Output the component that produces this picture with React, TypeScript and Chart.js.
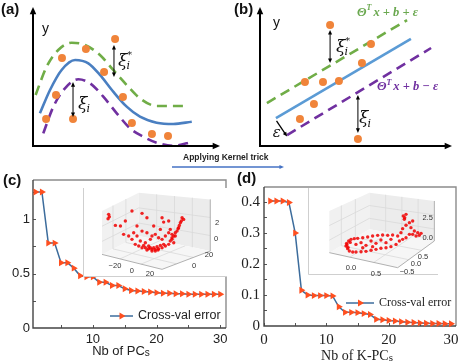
import React, { useEffect, useRef } from "react";
import { Chart, registerables } from "chart.js";

Chart.register(...registerables);

const W = 474;
const H = 361;

// ---------------- panel (a): non-linear SVR sketch (arbitrary units 0..10) ----------------
const aFitX = [0.37, 0.91, 1.53, 2.25, 2.96, 3.58, 4.29, 5.01, 5.72, 6.61, 7.5, 8.49];
const aFitY = [2.35, 4.03, 5.47, 6.19, 5.95, 5.11, 3.91, 2.83, 2.11, 1.68, 1.58, 1.75];
const aUpperX = [0.14, 0.73, 1.35, 2.07, 2.78, 3.58, 4.29, 5.01, 5.72, 6.61, 8.13];
const aUpperY = [3.67, 5.71, 6.91, 7.43, 7.27, 6.55, 5.47, 4.39, 3.43, 2.88, 2.88];
const aLowerX = [0.55, 1.09, 1.71, 2.42, 3.05, 3.76, 4.48, 5.19, 5.9, 6.61, 7.5, 8.57];
const aLowerY = [0.91, 2.83, 4.15, 4.8, 4.51, 3.55, 2.35, 1.27, 0.67, 0.24, 0.02, 0.31];
const aSampleX = [4.39, 2.83, 1.55, 3.8, 1.23, 4.81, 0.7, 2.14, 5.29, 6.36, 7.22];
const aSampleY = [7.7, 6.98, 6.33, 5.32, 3.67, 3.53, 1.94, 1.94, 1.65, 0.86, 0.72];

// ---------------- panel (b): linear SVR sketch ----------------
const bUpperX = [0.36, 7.66];
const bUpperY = [3.09, 9.06];
const bFitX = [0.83, 7.86];
const bFitY = [2.01, 7.7];
const bLowerX = [1.41, 8.91];
const bLowerY = [0.79, 7.05];
const bSampleX = [3.65, 5.78, 5.31, 2.34, 3.28, 4.11, 2.81, 2.08, 5.1];
const bSampleY = [8.71, 7.34, 5.97, 4.6, 4.6, 4.68, 3.02, 1.94, 0.5];

// ---------------- panel (c): PCA cross-validation error ----------------
const nbPCs = [1, 2, 3, 4, 5, 6, 7, 8, 9, 10, 11, 12, 13, 14, 15, 16, 17, 18, 19, 20, 21, 22, 23, 24, 25, 26, 27, 28, 29, 30];
const cvErrorPCA = [1.25, 1.25, 0.78, 0.78, 0.6, 0.6, 0.55, 0.48, 0.47, 0.47, 0.42, 0.42, 0.39, 0.39, 0.36, 0.345, 0.34, 0.335, 0.33, 0.325, 0.32, 0.32, 0.315, 0.315, 0.31, 0.31, 0.31, 0.31, 0.31, 0.31];
const pcaXTicks = [10, 20, 30];
const pcaYTicks = [0, 0.5, 1];

// ---------------- panel (d): kernel PCA cross-validation error ----------------
const nbKPCs = [1, 2, 3, 4, 5, 6, 7, 8, 9, 10, 11, 12, 13, 14, 15, 16, 17, 18, 19, 20, 21, 22, 23, 24, 25, 26, 27, 28, 29, 30];
const cvErrorKPCA = [0.403, 0.403, 0.403, 0.398, 0.3, 0.115, 0.1, 0.098, 0.098, 0.098, 0.097, 0.062, 0.044, 0.044, 0.043, 0.04, 0.037, 0.022, 0.02, 0.018, 0.016, 0.014, 0.012, 0.011, 0.01, 0.009, 0.008, 0.008, 0.007, 0.007];
const kpcaXTicks = [0, 10, 20, 30];
const kpcaYTicks = [0, 0.1, 0.2, 0.3, 0.4];

// ---------------- insets: projected 3-D point clouds (inset units 0..100) ----------------
const pcaCloudX = [17.8, 18.3, 17.4, 34.0, 41.0, 44.4, 22.5, 26.0, 29.4, 54.9, 56.0, 59.5, 68.8, 69.9, 67.6, 66.4, 65.3, 28.2, 31.7, 35.2, 34.0, 37.5, 41.0, 44.4, 47.9, 50.2, 52.5, 39.8, 43.3, 46.8, 54.9, 57.2, 59.5, 60.6, 61.8, 63.0, 64.1, 36.3, 38.7, 41.0, 43.3, 45.6, 47.9, 50.2, 52.5, 54.9, 57.2, 59.5, 45.6, 49.1, 51.4, 53.7, 44.4, 47.9, 50.2, 46.8, 42.1, 56.0, 52.1, 60.6, 61.8, 63.0, 64.1, 66.0, 66.9, 68.3, 61.8, 37.5, 49.1, 53.7];
const pcaCloudY = [70.4, 67.7, 65.5, 74.1, 71.5, 66.6, 58.0, 57.3, 62.9, 66.6, 61.7, 62.9, 66.6, 64.7, 61.0, 55.4, 51.6, 47.9, 46.0, 49.8, 42.3, 46.0, 51.6, 49.8, 46.0, 47.9, 44.1, 40.4, 38.5, 42.3, 42.3, 46.0, 49.8, 53.5, 44.1, 38.5, 46.0, 36.7, 34.8, 32.9, 32.9, 31.8, 31.0, 31.0, 31.8, 32.9, 34.8, 36.7, 34.8, 32.9, 34.0, 35.5, 30.3, 29.2, 29.2, 32.9, 35.5, 36.7, 30.3, 40.4, 42.3, 46.0, 49.8, 54.3, 58.0, 62.9, 47.9, 57.3, 57.3, 53.5];
const kpcaCloudX = [29.2, 29.7, 30.5, 31.3, 31.8, 33.1, 34.4, 35.6, 38.2, 36.9, 40.8, 42.1, 44.6, 45.9, 48.5, 49.7, 52.3, 53.6, 56.1, 57.4, 60.0, 61.3, 63.8, 65.1, 36.9, 40.8, 44.6, 48.5, 52.3, 56.1, 60.0, 63.8, 67.7, 70.3, 49.7, 42.1, 69.0, 71.5, 72.8, 75.4, 74.1, 73.3, 75.4, 74.4, 78.0, 80.5, 79.2, 81.8, 84.4, 87.0, 83.1, 78.0, 75.4, 72.8, 80.5, 85.6, 30.0, 30.8, 32.5];
const kpcaCloudY = [33.3, 36.4, 30.3, 39.1, 27.6, 41.0, 26.4, 41.8, 42.1, 26.4, 26.8, 42.9, 27.2, 43.7, 28.4, 44.8, 29.5, 45.6, 30.7, 46.0, 31.4, 45.6, 32.6, 46.0, 35.2, 37.2, 34.1, 39.1, 36.4, 40.2, 37.2, 41.0, 35.2, 39.1, 32.6, 31.4, 44.8, 48.7, 53.3, 57.1, 64.0, 67.8, 69.7, 65.9, 60.2, 62.1, 54.4, 50.6, 48.7, 47.9, 44.8, 46.7, 42.9, 41.0, 46.7, 45.6, 34.8, 31.8, 37.5];
const pcaInsetTickLabels = ["\u221220", "0", "20", "2", "0", "20", "0"];
const kpcaInsetTickLabels = ["0.0", "0.5", "2.5", "0.0", "0.5", "0.0", "\u22120.5"];

// ---------------- styles ----------------
const GREEN = "#70ad47";
const PURPLE = "#7030a0";
const BLUE_A = "#4a7fc1";
const BLUE_B = "#5b9bd5";
const ORANGE = "#f0843a";
const LINE_BLUE = "#3c6c9c";
const MARKER = "#ff4f1f";

const pts = (xs: number[], ys: number[]) => xs.map((x, i) => ({ x, y: ys[i] }));

function arrowHead(ctx: CanvasRenderingContext2D, x1: number, y1: number, x2: number, y2: number, size: number) {
  const ang = Math.atan2(y2 - y1, x2 - x1);
  ctx.beginPath();
  ctx.moveTo(x2, y2);
  ctx.lineTo(x2 - size * Math.cos(ang - 0.42), y2 - size * Math.sin(ang - 0.42));
  ctx.lineTo(x2 - size * Math.cos(ang + 0.42), y2 - size * Math.sin(ang + 0.42));
  ctx.closePath();
  ctx.fill();
}

function arrow(ctx: CanvasRenderingContext2D, x1: number, y1: number, x2: number, y2: number, width: number, size: number, color: string, both = false) {
  ctx.save();
  ctx.strokeStyle = color;
  ctx.fillStyle = color;
  ctx.lineWidth = width;
  const ang = Math.atan2(y2 - y1, x2 - x1);
  const ex = x2 - Math.cos(ang) * size * 0.7;
  const ey = y2 - Math.sin(ang) * size * 0.7;
  const sx = both ? x1 + Math.cos(ang) * size * 0.7 : x1;
  const sy = both ? y1 + Math.sin(ang) * size * 0.7 : y1;
  ctx.beginPath();
  ctx.moveTo(sx, sy);
  ctx.lineTo(ex, ey);
  ctx.stroke();
  arrowHead(ctx, x1, y1, x2, y2, size);
  if (both) arrowHead(ctx, x2, y2, x1, y1, size);
  ctx.restore();
}

function xiLabel(ctx: CanvasRenderingContext2D, x: number, y: number, star: boolean, size: number) {
  ctx.save();
  ctx.fillStyle = "#111";
  ctx.textAlign = "left";
  ctx.textBaseline = "middle";
  ctx.font = `italic ${size}px "DejaVu Serif"`;
  ctx.fillText("\u03be", x, y);
  const w = ctx.measureText("\u03be").width;
  ctx.font = `italic ${Math.round(size * 0.62)}px "DejaVu Serif"`;
  ctx.fillText("i", x + w - 1, y + size * 0.3);
  if (star) {
    ctx.font = `${Math.round(size * 0.55)}px "DejaVu Serif"`;
    ctx.fillText("*", x + w, y - size * 0.35);
  }
  ctx.restore();
}

function thetaLabel(ctx: CanvasRenderingContext2D, x: number, y: number, sign: string, color: string) {
  ctx.save();
  ctx.fillStyle = color;
  ctx.textAlign = "left";
  ctx.textBaseline = "middle";
  ctx.font = 'bold italic 12.5px "Liberation Serif"';
  ctx.fillText("\u0398", x, y);
  let cx = x + ctx.measureText("\u0398").width;
  ctx.font = 'bold italic 8px "Liberation Serif"';
  ctx.fillText("T", cx, y - 4);
  cx += ctx.measureText("T").width + 2;
  ctx.font = 'bold italic 12.5px "Liberation Serif"';
  ctx.fillText("x + b " + sign + " \u03b5", cx, y);
  ctx.restore();
}

function panelLabel(ctx: CanvasRenderingContext2D, text: string, x: number, y: number) {
  ctx.save();
  ctx.fillStyle = "#111";
  ctx.font = 'bold 15px "Liberation Sans"';
  ctx.textAlign = "left";
  ctx.textBaseline = "middle";
  ctx.fillText(text, x, y);
  ctx.restore();
}

const baseOptions = (padding: any, xr: [number, number], yr: [number, number]) => ({
  responsive: false,
  animation: false as const,
  devicePixelRatio: 1,
  events: [] as any[],
  layout: { padding },
  scales: {
    x: { type: "linear" as const, min: xr[0], max: xr[1], display: false },
    y: { type: "linear" as const, min: yr[0], max: yr[1], display: false },
  },
  plugins: { legend: { display: false }, tooltip: { enabled: false } },
});

const curve = (data: any, color: string, dash: number[]) => ({
  data,
  borderColor: color,
  borderWidth: 2.6,
  borderDash: dash,
  pointRadius: 0,
  cubicInterpolationMode: "monotone" as const,
  clip: false as const,
  order: 2,
});

const samples = (data: any) => ({
  data,
  showLine: false,
  pointRadius: 4,
  pointBackgroundColor: ORANGE,
  pointBorderColor: ORANGE,
  pointBorderWidth: 0,
  clip: false as const,
  order: 0,
});

// ---------- panel (a) ----------
const sketchAPlugin = {
  id: "sketchA",
  afterDatasetsDraw(chart: any) {
    const { ctx } = chart;
    const sx = chart.scales.x, sy = chart.scales.y;
    const px = (v: number) => sx.getPixelForValue(v);
    const py = (v: number) => sy.getPixelForValue(v);
    arrow(ctx, px(0), py(0) + 1, px(0), py(10), 2, 8, "#000");
    arrow(ctx, px(0) - 1, py(0), px(10), py(0), 2, 8, "#000");
    arrow(ctx, px(4.33), py(7.27), px(4.33), py(4.96), 1, 5, "#000", true);
    arrow(ctx, px(2.14), py(4.6), px(2.14), py(2.09), 1, 5, "#000", true);
    xiLabel(ctx, px(4.55), py(6.1), true, 17);
    xiLabel(ctx, px(2.41), py(3.0), false, 17);
    ctx.save();
    ctx.fillStyle = "#111";
    ctx.font = '14px "Liberation Sans"';
    ctx.textBaseline = "middle";
    ctx.fillText("y", px(0.48), py(8.4));
    ctx.restore();
    panelLabel(ctx, "(a)", 1, 10);
    // kernel-trick arrow between (a) and (b)
    ctx.save();
    ctx.fillStyle = "#222";
    ctx.font = 'bold 8.5px "Liberation Sans"';
    ctx.textBaseline = "middle";
    ctx.fillText("Applying Kernel trick", 183, 158);
    ctx.restore();
    arrow(ctx, 172, 167, 284, 167, 1.5, 5, "#4472c4");
  },
};

const configA = () => ({
  type: "line" as const,
  data: {
    datasets: [
      samples(pts(aSampleX, aSampleY)),
      curve(pts(aUpperX, aUpperY), GREEN, [10, 6]),
      curve(pts(aFitX, aFitY), BLUE_A, []),
      curve(pts(aLowerX, aLowerY), PURPLE, [10, 6]),
    ],
  },
  options: baseOptions({ left: 33, top: 7, right: W - 220, bottom: H - 146 }, [0, 10], [0, 10]),
  plugins: [sketchAPlugin],
});

// ---------- panel (b) ----------
const sketchBPlugin = {
  id: "sketchB",
  afterDatasetsDraw(chart: any) {
    const { ctx } = chart;
    const sx = chart.scales.x, sy = chart.scales.y;
    const px = (v: number) => sx.getPixelForValue(v);
    const py = (v: number) => sy.getPixelForValue(v);
    arrow(ctx, px(0), py(0) + 1, px(0), py(10), 2, 8, "#000");
    arrow(ctx, px(0) - 1, py(0), px(10), py(0), 2, 8, "#000");
    arrow(ctx, px(3.65), py(8.35), px(3.65), py(5.97), 1, 5, "#000", true);
    arrow(ctx, px(5.1), py(3.67), px(5.1), py(0.94), 1, 5, "#000", true);
    arrow(ctx, px(0.86), py(1.8), px(1.41), py(0.68), 1.3, 5, "#000");
    xiLabel(ctx, px(3.96), py(7.1), true, 17);
    xiLabel(ctx, px(5.16), py(1.95), false, 17);
    ctx.save();
    ctx.fillStyle = "#111";
    ctx.font = 'italic 15px "DejaVu Serif"';
    ctx.textBaseline = "middle";
    ctx.textAlign = "center";
    ctx.fillText("\u03b5", px(0.88), py(0.92));
    ctx.font = '14px "Liberation Sans"';
    ctx.textAlign = "left";
    ctx.fillText("y", px(0.68), py(8.85));
    ctx.restore();
    thetaLabel(ctx, px(5.05), py(9.62), "+", "#6aa84f");
    thetaLabel(ctx, px(6.09), py(4.25), "\u2212", PURPLE);
    panelLabel(ctx, "(b)", 234, 10);
  },
};

const configB = () => ({
  type: "line" as const,
  data: {
    datasets: [
      samples(pts(bSampleX, bSampleY)),
      { ...curve(pts(bUpperX, bUpperY), GREEN, [10, 6]), cubicInterpolationMode: "default" as const },
      { ...curve(pts(bFitX, bFitY), BLUE_B, []), cubicInterpolationMode: "default" as const },
      { ...curve(pts(bLowerX, bLowerY), PURPLE, [10, 6]), cubicInterpolationMode: "default" as const },
    ],
  },
  options: baseOptions({ left: 260, top: 7, right: W - 452, bottom: H - 146 }, [0, 10], [0, 10]),
  plugins: [sketchBPlugin],
});

// ---------- panels (c) and (d): error curves ----------
type ErrOpts = {
  id: string;
  label: string;
  panelX: number;
  panelY: number;
  family: string;
  legendSize: number;
  legendDx: number;
  legendDy: number;
  legendLen: number;
  titleX: number;
  titleY: number;
  titleSize: number;
  titleMain: string;
  xMinor: number;
  yMinor: number;
};

const errPlugin = (o: ErrOpts) => ({
  id: o.id,
  beforeDatasetsDraw(chart: any) {
    const { ctx, chartArea: a } = chart;
    const sx = chart.scales.x, sy = chart.scales.y;
    ctx.save();
    ctx.lineWidth = 1;
    ctx.strokeStyle = "#555";
    for (let v = Math.ceil(sx.min / o.xMinor) * o.xMinor; v <= sx.max + 1e-9; v += o.xMinor) {
      const p = Math.round(sx.getPixelForValue(v)) + 0.5;
      ctx.beginPath();
      ctx.moveTo(p, a.bottom);
      ctx.lineTo(p, a.bottom - 3);
      ctx.stroke();
    }
    for (let v = o.yMinor; v <= sy.max + 1e-9; v += o.yMinor) {
      const p = Math.round(sy.getPixelForValue(v)) + 0.5;
      ctx.beginPath();
      ctx.moveTo(a.left, p);
      ctx.lineTo(a.left + 3, p);
      ctx.stroke();
    }
    ctx.lineWidth = 1.4;
    ctx.strokeStyle = "#8c8c8c";
    ctx.beginPath();
    ctx.moveTo(a.left, a.top);
    ctx.lineTo(a.right, a.top);
    ctx.lineTo(a.right, a.bottom);
    ctx.stroke();
    ctx.strokeStyle = "#444";
    ctx.beginPath();
    ctx.moveTo(a.left, a.top);
    ctx.lineTo(a.left, a.bottom);
    ctx.lineTo(a.right, a.bottom);
    ctx.stroke();
    ctx.restore();
  },
  afterDraw(chart: any) {
    const { ctx, chartArea: a } = chart;
    ctx.save();
    // legend
    const lx = a.right - o.legendDx;
    const ly = a.bottom - o.legendDy;
    ctx.strokeStyle = LINE_BLUE;
    ctx.lineWidth = 1.5;
    ctx.beginPath();
    ctx.moveTo(lx, ly);
    ctx.lineTo(lx + o.legendLen, ly);
    ctx.stroke();
    const cx = lx + o.legendLen / 2, r = 4;
    ctx.fillStyle = MARKER;
    ctx.beginPath();
    ctx.moveTo(cx + r, ly);
    ctx.lineTo(cx - r / 2, ly - r * 0.866);
    ctx.lineTo(cx - r / 2, ly + r * 0.866);
    ctx.closePath();
    ctx.fill();
    ctx.fillStyle = "#222";
    ctx.font = `${o.legendSize}px "${o.family}"`;
    ctx.textBaseline = "middle";
    ctx.textAlign = "left";
    ctx.fillText("Cross-val error", lx + o.legendLen + 5, ly);
    // axis title with subscript s
    ctx.font = `${o.titleSize}px "${o.family}"`;
    const wMain = ctx.measureText(o.titleMain).width;
    ctx.font = `${Math.round(o.titleSize * 0.75)}px "${o.family}"`;
    const wSub = ctx.measureText("s").width;
    const start = o.titleX - (wMain + wSub) / 2;
    ctx.font = `${o.titleSize}px "${o.family}"`;
    ctx.fillText(o.titleMain, start, o.titleY);
    ctx.font = `${Math.round(o.titleSize * 0.75)}px "${o.family}"`;
    ctx.fillText("s", start + wMain, o.titleY + 2);
    ctx.restore();
    panelLabel(ctx, o.label, o.panelX, o.panelY);
  },
});

const errConfig = (
  xs: number[], ys: number[], xTicks: number[], yTicks: number[],
  xr: [number, number], yr: [number, number], area: { l: number; t: number; r: number; b: number },
  family: string, tickSize: number, yAxisW: number, xPad: number, yPad: number, o: ErrOpts
) => ({
  type: "line" as const,
  data: {
    datasets: [
      {
        data: pts(xs, ys),
        borderColor: LINE_BLUE,
        borderWidth: 1.5,
        pointStyle: "triangle" as const,
        rotation: 90,
        pointRadius: 4,
        pointBackgroundColor: MARKER,
        pointBorderColor: MARKER,
        pointBorderWidth: 0,
        tension: 0,
        clip: false as const,
      },
    ],
  },
  options: {
    responsive: false,
    animation: false as const,
    devicePixelRatio: 1,
    events: [] as any[],
    layout: { padding: { left: area.l - yAxisW, top: area.t, right: W - area.r, bottom: 0 } },
    scales: {
      x: {
        type: "linear" as const,
        min: xr[0],
        max: xr[1],
        grid: { display: false, drawTicks: false },
        border: { display: false },
        ticks: { font: { family: family, size: tickSize }, color: "#222", padding: xPad, autoSkip: false, maxRotation: 0, callback: (v: any) => String(v) },
        afterBuildTicks: (s: any) => { s.ticks = xTicks.map((v) => ({ value: v })); },
        afterFit: (s: any) => { s.height = H - area.b; },
      },
      y: {
        type: "linear" as const,
        min: yr[0],
        max: yr[1],
        grid: { display: false, drawTicks: false },
        border: { display: false },
        ticks: { font: { family: family, size: tickSize }, color: "#222", padding: yPad, autoSkip: false, callback: (v: any) => String(v) },
        afterBuildTicks: (s: any) => { s.ticks = yTicks.map((v) => ({ value: v })); },
        afterFit: (s: any) => { s.width = yAxisW; },
      },
    },
    plugins: { legend: { display: false }, tooltip: { enabled: false } },
  },
  plugins: [errPlugin(o)],
});

const configC = () =>
  errConfig(nbPCs, cvErrorPCA, pcaXTicks, pcaYTicks, [0.6, 30.9], [0, 1.36], { l: 33, t: 180, r: 226, b: 328 },
    "Liberation Sans", 13, 33, 4, 3, {
      id: "errC", label: "(c)", panelX: 3, panelY: 181, family: "Liberation Sans", legendSize: 12.5,
      legendDx: 116, legendDy: 12, legendLen: 23, titleX: 121, titleY: 351, titleSize: 13, titleMain: "Nb of PC",
      xMinor: 5, yMinor: 0.25,
    });

const configD = () =>
  errConfig(nbKPCs, cvErrorKPCA, kpcaXTicks, kpcaYTicks, [0, 30.8], [0, 0.448], { l: 264, t: 187, r: 456, b: 326 },
    "Liberation Serif", 15, 30, 5, 4, {
      id: "errD", label: "(d)", panelX: 237, panelY: 179, family: "Liberation Serif", legendSize: 12,
      legendDx: 110, legendDy: 23, legendLen: 28, titleX: 357, titleY: 356, titleSize: 14, titleMain: "Nb of K-PC",
      xMinor: 5, yMinor: 0.05,
    });

// ---------- 3-D insets ----------
type Frame = { TL: number[]; TM: number[]; TR: number[]; BR: number[]; BM: number[]; BL: number[]; F: number[] };

const cubePlugin = (id: string, fr: Frame, labels: string[], labelPos: number[][]) => ({
  id,
  beforeDatasetsDraw(chart: any) {
    const { ctx, chartArea: a } = chart;
    const sx = chart.scales.x, sy = chart.scales.y;
    const P = (p: number[]) => [sx.getPixelForValue(p[0]), sy.getPixelForValue(p[1])];
    const lerp = (p: number[], q: number[], t: number) => [p[0] + (q[0] - p[0]) * t, p[1] + (q[1] - p[1]) * t];
    ctx.save();
    ctx.fillStyle = "#fff";
    ctx.fillRect(a.left, a.top, a.right - a.left, a.bottom - a.top);
    ctx.strokeStyle = "#cfcfcf";
    ctx.lineWidth = 1;
    ctx.beginPath();
    ctx.moveTo(a.left + 0.5, a.top);
    ctx.lineTo(a.left + 0.5, a.bottom - 0.5);
    ctx.lineTo(a.right, a.bottom - 0.5);
    ctx.stroke();
    const poly = (q: number[][], fill: string) => {
      ctx.beginPath();
      q.forEach((p, i) => {
        const [x, y] = P(p);
        if (i === 0) ctx.moveTo(x, y);
        else ctx.lineTo(x, y);
      });
      ctx.closePath();
      ctx.fillStyle = fill;
      ctx.fill();
    };
    const grid = (A: number[], B: number[], C: number[], D: number[], ts: number[], ss: number[]) => {
      ctx.strokeStyle = "#d9d9d9";
      ctx.lineWidth = 0.8;
      ts.forEach((t) => {
        const p = P(lerp(A, B, t)), q = P(lerp(D, C, t));
        ctx.beginPath();
        ctx.moveTo(p[0], p[1]);
        ctx.lineTo(q[0], q[1]);
        ctx.stroke();
      });
      ss.forEach((t) => {
        const p = P(lerp(A, D, t)), q = P(lerp(B, C, t));
        ctx.beginPath();
        ctx.moveTo(p[0], p[1]);
        ctx.lineTo(q[0], q[1]);
        ctx.stroke();
      });
    };
    poly([fr.TL, fr.TM, fr.BM, fr.BL], "#f1f1f1");
    poly([fr.TM, fr.TR, fr.BR, fr.BM], "#ececec");
    poly([fr.BL, fr.BM, fr.BR, fr.F], "#f6f6f6");
    grid(fr.TL, fr.TM, fr.BM, fr.BL, [0.3, 0.65], [0.35, 0.7]);
    grid(fr.TM, fr.TR, fr.BR, fr.BM, [0.25, 0.5, 0.75], [0.35, 0.7]);
    grid(fr.BL, fr.BM, fr.BR, fr.F, [0.3, 0.65], [0.3, 0.65]);
    ctx.strokeStyle = "#a8a8a8";
    ctx.lineWidth = 0.9;
    const e = [P(fr.BL), P(fr.F), P(fr.BR)];
    ctx.beginPath();
    ctx.moveTo(e[0][0], e[0][1]);
    ctx.lineTo(e[1][0], e[1][1]);
    ctx.lineTo(e[2][0], e[2][1]);
    ctx.stroke();
    const r1 = P(fr.TR), r2 = P(fr.BR);
    ctx.beginPath();
    ctx.moveTo(r1[0], r1[1]);
    ctx.lineTo(r2[0], r2[1]);
    ctx.stroke();
    ctx.restore();
  },
  afterDatasetsDraw(chart: any) {
    const { ctx } = chart;
    const sx = chart.scales.x, sy = chart.scales.y;
    ctx.save();
    ctx.fillStyle = "#333";
    ctx.font = '7.5px "Liberation Sans"';
    ctx.textAlign = "center";
    ctx.textBaseline = "middle";
    labels.forEach((t, i) => {
      ctx.fillText(t, sx.getPixelForValue(labelPos[i][0]), sy.getPixelForValue(labelPos[i][1]));
    });
    ctx.restore();
  },
});

const pcaFrame: Frame = { TL: [13.2, 74.1], TM: [38.7, 94.7], TR: [88.4, 87.2], BR: [88.4, 29.2], BM: [38.7, 46.0], BL: [13.2, 25.4], F: [54.9, 8.6] };
const kpcaFrame: Frame = { TL: [16.4, 73.6], TM: [47.2, 94.6], TR: [97.2, 85.1], BR: [97.2, 39.1], BM: [47.2, 52.5], BL: [16.4, 25.7], F: [69.0, 8.4] };
const pcaLabelPos = [[22.2, 12.4], [34.0, 6.7], [46.5, 3.4], [93.1, 60.7], [92.4, 42.7], [87.5, 24.7], [77.1, 12.4]];
const kpcaLabelPos = [[33.1, 8.0], [52.3, 1.1], [92.0, 65.5], [92.0, 42.5], [88.5, 20.7], [83.1, 12.6], [76.2, 3.4]];

const insetConfig = (xs: number[], ys: number[], box: { l: number; t: number; r: number; b: number }, plugin: any) => ({
  type: "line" as const,
  data: {
    datasets: [
      {
        data: pts(xs, ys),
        showLine: false,
        pointRadius: 1.7,
        pointBackgroundColor: "rgba(240,0,0,0.85)",
        pointBorderWidth: 0,
        clip: false as const,
      },
    ],
  },
  options: baseOptions({ left: box.l, top: box.t, right: W - box.r, bottom: H - box.b }, [0, 100], [0, 100]),
  plugins: [plugin],
});

const configInsetC = () =>
  insetConfig(pcaCloudX, pcaCloudY, { l: 83, t: 188, r: 227, b: 277 }, cubePlugin("cubeC", pcaFrame, pcaInsetTickLabels, pcaLabelPos));
const configInsetD = () =>
  insetConfig(kpcaCloudX, kpcaCloudY, { l: 308, t: 188, r: 438, b: 275 }, cubePlugin("cubeD", kpcaFrame, kpcaInsetTickLabels, kpcaLabelPos));

export default function App() {
  const refs = useRef<(HTMLCanvasElement | null)[]>([]);
  useEffect(() => {
    const configs: any[] = [configC(), configInsetC(), configD(), configInsetD(), configA(), configB()];
    const charts = configs.map((cfg, i) => new Chart(refs.current[i] as HTMLCanvasElement, cfg));
    return () => charts.forEach((c) => c.destroy());
  }, []);
  return (
    <div style={{ position: "fixed", left: 0, top: 0, width: W, height: H, background: "#fff", overflow: "hidden" }}>
      {[0, 1, 2, 3, 4, 5].map((i) => (
        <canvas
          key={i}
          ref={(el) => {
            refs.current[i] = el;
          }}
          width={W}
          height={H}
          style={{ position: "absolute", left: 0, top: 0, width: W, height: H }}
        />
      ))}
    </div>
  );
}
